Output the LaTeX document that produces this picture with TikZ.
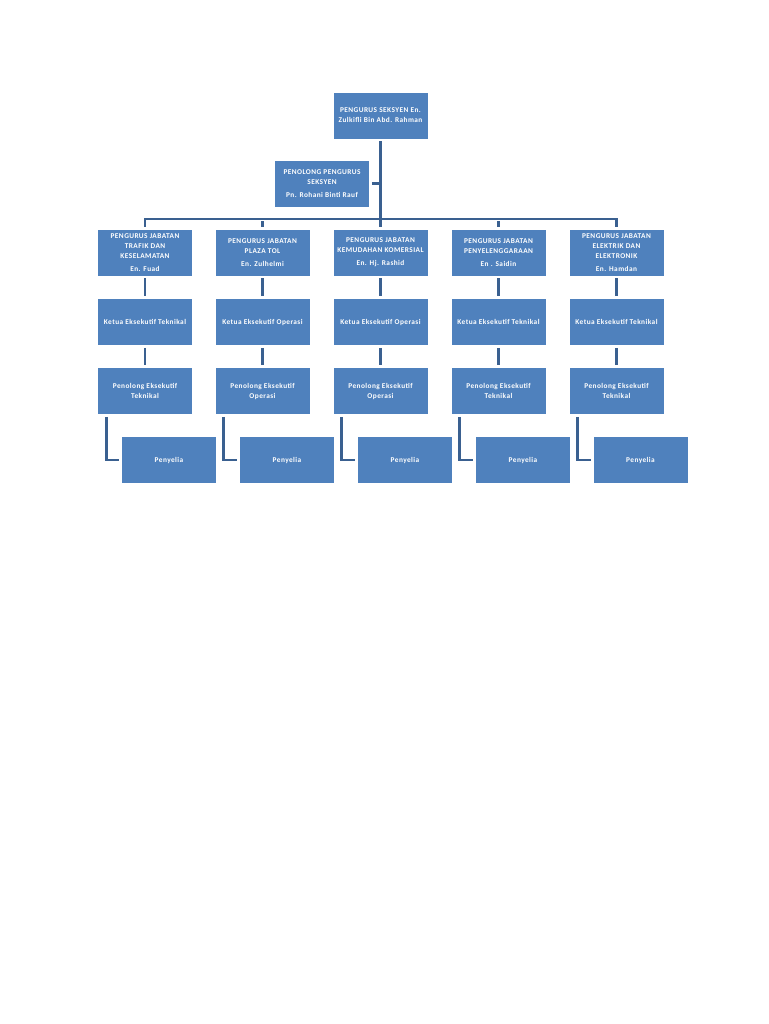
\documentclass[tikz,border=0pt]{standalone}
\usepackage{fontspec}
\newfontfamily\cf[LetterSpace=6]{Carlito}
\usetikzlibrary{calc}
\definecolor{boxblue}{HTML}{4F81BD}
\definecolor{lineblue}{HTML}{3A6090}
\tikzset{
  box/.style={draw=white, line width=0.4pt, fill=boxblue, text=white,
    minimum width=71.25pt, minimum height=35.25pt, inner sep=1pt, align=center,
    font=\cf\bfseries\fontsize{5.5}{7.5}\selectfont},
  conn/.style={draw=lineblue, line width=2.2pt, shorten >=1.5pt, shorten <=1.5pt},
}
\begin{document}
\begin{tikzpicture}[x=0.75pt,y=-0.75pt]
\useasboundingbox (0,0) rectangle (768,1024);
\node[box] (top) at (380.5,115.5) {PENGURUS SEKSYEN En.\\Zulkifli Bin Abd. Rahman};
\node[box] (pps) at (322,183.5) {PENOLONG PENGURUS\\SEKSYEN\\[2pt]Pn. Rohani Binti Rauf};
\coordinate (bus) at (380.5,219);
% row 1
\node[box] (a1) at (145,252.5) {PENGURUS JABATAN\\TRAFIK DAN\\KESELAMATAN\\[2pt]En. Fuad};
\node[box] (b1) at (262.5,252.5) {PENGURUS JABATAN\\PLAZA TOL\\[2pt]En. Zulhelmi};
\node[box] (c1) at (380.5,252.5) {PENGURUS JABATAN\\KEMUDAHAN KOMERSIAL\\[2pt]En. Hj. Rashid};
\node[box] (d1) at (498.5,252.5) {PENGURUS JABATAN\\PENYELENGGARAAN\\[2pt]En . Saidin};
\node[box] (e1) at (616.5,252.5) {PENGURUS JABATAN\\ELEKTRIK DAN\\ELEKTRONIK\\[2pt]En. Hamdan};
% row 2
\node[box] (a2) at (145,322) {Ketua Eksekutif Teknikal};
\node[box] (b2) at (262.5,322) {Ketua Eksekutif Operasi};
\node[box] (c2) at (380.5,322) {Ketua Eksekutif Operasi};
\node[box] (d2) at (498.5,322) {Ketua Eksekutif Teknikal};
\node[box] (e2) at (616.5,322) {Ketua Eksekutif Teknikal};
% row 3
\node[box] (a3) at (145,391) {Penolong Eksekutif\\Teknikal};
\node[box] (b3) at (262.5,391) {Penolong Eksekutif\\Operasi};
\node[box] (c3) at (380.5,391) {Penolong Eksekutif\\Operasi};
\node[box] (d3) at (498.5,391) {Penolong Eksekutif\\Teknikal};
\node[box] (e3) at (616.5,391) {Penolong Eksekutif\\Teknikal};
% row 4
\node[box] (a4) at (169,460) {Penyelia};
\node[box] (b4) at (287,460) {Penyelia};
\node[box] (c4) at (405,460) {Penyelia};
\node[box] (d4) at (523,460) {Penyelia};
\node[box] (e4) at (640.5,460) {Penyelia};
% connectors
\draw[conn] (top.south) -- (c1.north);
\draw[conn] (pps.east) -- (pps.east -| top.south);
\draw[conn] (a1.north) -- (a1.north |- bus) -- (e1.north |- bus) -- (e1.north);
\draw[conn] (b1.north |- bus) -- (b1.north);
\draw[conn] (d1.north |- bus) -- (d1.north);
\foreach \c in {a,b,c,d,e}{
  \draw[conn] (\c1.south) -- (\c2.north);
  \draw[conn] (\c2.south) -- (\c3.north);
  \draw[conn] ($(\c3.south west)+(9,0)$) |- (\c4.west);
}
\end{tikzpicture}
\end{document}
